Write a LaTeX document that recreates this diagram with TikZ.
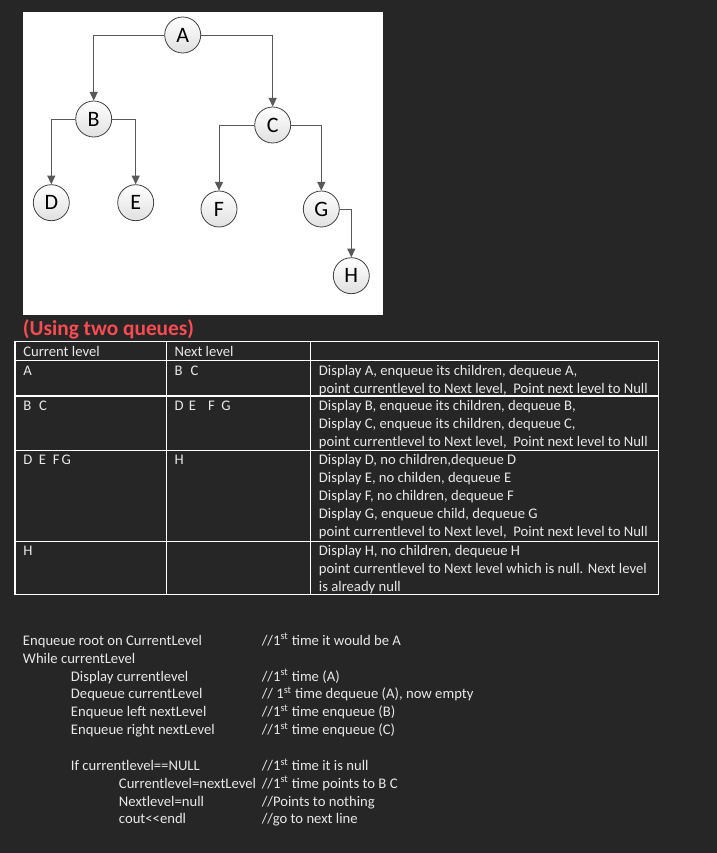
\documentclass[tikz,border=0pt]{standalone}
\usepackage{fontspec}
\setmainfont{Carlito}
\usepackage{xcolor}
\usetikzlibrary{arrows.meta,positioning}
\definecolor{pagebg}{HTML}{262626}
\definecolor{qred}{HTML}{FA4A52}
\definecolor{txt}{HTML}{E8E8E8}
\definecolor{edgegray}{HTML}{595959}

\begin{document}
\begin{tikzpicture}[x=0.75pt,y=-0.75pt,
  vtx/.style={circle,draw=black!75,line width=0.6pt,top color=white,bottom color=black!12,
              minimum size=27pt,inner sep=0pt,font=\fontsize{16.5}{16.5}\selectfont},
  link/.style={-{Triangle[length=6.5pt,width=6pt]},draw=edgegray,line width=0.75pt},
  cell/.style={anchor=north west,align=left,inner xsep=6pt,inner ysep=1.1pt,text=txt,
               font=\fontsize{11}{13.5}\selectfont},
  code/.style={anchor=north west,align=left,inner sep=0pt,text=txt,
               font=\fontsize{11}{13.4}\selectfont},
  grid/.style={draw=white,line width=1pt}]
  \path[use as bounding box,fill=pagebg] (0,0) rectangle (717,853);
  \fill[white] (23,12) rectangle (383,315);

  \node[vtx] (A) at (182.7,35) {A};
  \node[vtx] (B) at (93.7,119) {B};
  \node[vtx] (C) at (272.7,125) {C};
  \node[vtx] (D) at (51.3,202.7) {D};
  \node[vtx] (E) at (135.7,202.7) {E};
  \node[vtx] (F) at (219,209) {F};
  \node[vtx] (G) at (321.3,209) {G};
  \node[vtx] (H) at (351.3,275.7) {H};
  \draw[link] (A.west) -| (B.north);
  \draw[link] (A.east) -| (C.north);
  \draw[link] (B.west) -| (D.north);
  \draw[link] (B.east) -| (E.north);
  \draw[link] (C.west) -| (F.north);
  \draw[link] (C.east) -| (G.north);
  \draw[link] (G.east) -| (H.north);

  \node[anchor=base west,inner sep=0pt,text=qred,font=\fontsize{16}{16}\selectfont\bfseries]
    (title) at (22.7,335) {(Using two queues)};

  \draw[grid] (15,341.7) rectangle (658.3,594.3);
  \foreach \y in {360.7,396,450.5,541.3} \draw[grid] (15,\y) -- (658.3,\y);
  \foreach \x in {166.3,310.7} \draw[grid] (\x,341.7) -- (\x,594.3);

  \node[cell] (cur0) at (15,341.7) {\strut Current level};
  \node[cell] (nxt0) at (166.3,341.7) {\strut Next level};
  \node[cell] (cur1) at (15,360.7) {\strut A};
  \node[cell] (nxt1) at (166.3,360.7) {\strut B\hspace{6pt}C};
  \node[cell] (act1) at (310.7,360.7) {\strut Display A, enqueue its children, dequeue A,\\
    point currentlevel to Next level,\ \ Point next level to Null};
  \node[cell] (cur2) at (15,396) {\strut B\hspace{6pt}C};
  \node[cell] (nxt2) at (166.3,396) {\strut D\hspace{4pt}E\hspace{9pt}F\hspace{5pt}G};
  \node[cell] (act2) at (310.7,396) {\strut Display B, enqueue its children, dequeue B,\\
    Display C, enqueue its children, dequeue C,\\
    point currentlevel to Next level,\ \ Point next level to Null};
  \node[cell] (cur3) at (15,450.5) {\strut D\hspace{5pt}E\hspace{5pt}F\hspace{1.5pt}G};
  \node[cell] (nxt3) at (166.3,450.5) {\strut H};
  \node[cell] (act3) at (310.7,450.5) {\strut Display D, no children,dequeue D\\
    Display E, no childen, dequeue E\\
    Display F, no children, dequeue F\\
    Display G, enqueue child, dequeue G\\
    point currentlevel to Next level,\ \ Point next level to Null};
  \node[cell] (cur4) at (15,541.3) {\strut H};
  \node[cell] (act4) at (310.7,541.3) {\strut Display H, no children, dequeue H\\
    point currentlevel to Next level which is null. Next level\\
    is already null};

  \node[code] (pcode) at (22.7,632.5) {\strut Enqueue root on CurrentLevel\\
    While currentLevel\\
    \hspace*{36pt}Display\ currentlevel\\
    \hspace*{36pt}Dequeue currentLevel\\
    \hspace*{36pt}Enqueue left nextLevel\\
    \hspace*{36pt}Enqueue right nextLevel\\
    \strut\\
    \hspace*{36pt}If currentlevel==NULL\\
    \hspace*{72pt}Currentlevel=nextLevel\\
    \hspace*{72pt}Nextlevel=null\\
    \hspace*{72pt}cout<{}<endl};
  \node[code] (pnote) at (261.5,632.5) {\strut //1\textsuperscript{st} time it would be A\\
    \strut\\
    //1\textsuperscript{st} time (A)\\
    // 1\textsuperscript{st} time dequeue (A), now empty\\
    //1\textsuperscript{st} time enqueue (B)\\
    //1\textsuperscript{st} time enqueue (C)\\
    \strut\\
    //1\textsuperscript{st} time it is null\\
    //1\textsuperscript{st} time points to B C\\
    //Points to nothing\\
    //go to next line};
\end{tikzpicture}
\end{document}
